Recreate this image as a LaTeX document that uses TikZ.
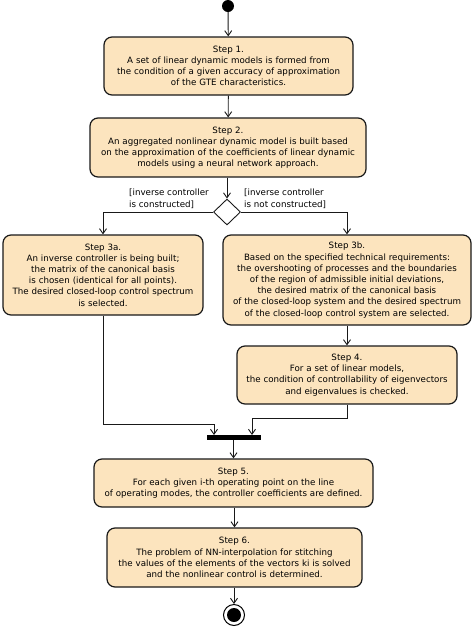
\documentclass[tikz,border=0pt]{standalone}
\usepackage{fontspec}
\setmainfont{DejaVu Sans}
\usepackage{tikz}
\usetikzlibrary{arrows.meta, positioning, shapes.geometric, calc}
\definecolor{stepfill}{RGB}{252,228,190}
\definecolor{stepline}{RGB}{25,25,25}
\tikzset{
    % activity steps
    stepbox/.style={rectangle, rounded corners=8pt, draw=stepline, fill=stepfill,
                line width=1.2pt, align=center, inner sep=1pt, text width=#1,
                font=\fontsize{8.7}{11.2}\selectfont},
    % guard labels
    guard/.style={font=\fontsize{8.7}{11.2}\selectfont, align=left, inner sep=0pt},
    % decision / join / start / end
    decide/.style={diamond, draw=stepline, fill=white, line width=0.9pt,
                minimum width=27pt, minimum height=26pt, inner sep=0pt},
    joinbar/.style={rectangle, fill=black, minimum width=54pt, minimum height=5pt, inner sep=0pt},
    startdot/.style={circle, fill=black, minimum size=12pt, inner sep=0pt},
    enddot/.style={circle, draw=black, line width=1pt, fill=white, minimum size=21pt, inner sep=0pt,
                path picture={\fill[black] (path picture bounding box.center) circle (7pt);}},
    % flow
    flow/.style={-{Straight Barb[length=5pt, width=7pt]}, line width=0.9pt, stepline},
}
\begin{document}
\begin{tikzpicture}[x=1pt, y=-1pt]
\useasboundingbox (0,0) rectangle (474,641);

\node[startdot] (start) at (228,6) {};
\node[stepbox=247pt, minimum width=249pt, minimum height=58pt] (s1) at (228.5,66)
    {Step 1.\\A set of linear dynamic models is formed from\\the condition of a given accuracy of approximation\\of the GTE characteristics.};
\node[stepbox=274pt, minimum width=276pt, minimum height=59pt] (s2) at (228,147.5)
    {Step 2.\\An aggregated nonlinear dynamic model is built based\\on the approximation of the coefficients of linear dynamic\\models using a neural network approach.};
\node[decide] (dec) at (227,212) {};
\node[guard, anchor=north west] (gl) at (129,189) {[inverse controller\\is constructed]};
\node[guard, anchor=north west] (gr) at (244,189) {[inverse controller\\is not constructed]};

\node[stepbox=198pt, minimum width=200pt, minimum height=80pt] (s3a) at (103,275)
    {Step 3a.\\An inverse controller is being built;\\the matrix of the canonical basis\\is chosen (identical for all points).\\The desired closed-loop control spectrum\\is selected.};
\node[stepbox=246pt, minimum width=248pt, minimum height=90pt] (s3b) at (347,280)
    {Step 3b.\\Based on the specified technical requirements:\\the overshooting of processes and the boundaries\\of the region of admissible initial deviations,\\the desired matrix of the canonical basis\\of the closed-loop system and the desired spectrum\\of the closed-loop control system are selected.};
\node[stepbox=218pt, minimum width=220pt, minimum height=58pt] (s4) at (347,375)
    {Step 4.\\For a set of linear models,\\the condition of controllability of eigenvectors\\and eigenvalues is checked.};

\node[joinbar] (join) at (234,437.5) {};
\coordinate (joinL) at (214,435);
\coordinate (joinR) at (252,435);

\node[stepbox=277pt, minimum width=279pt, minimum height=48pt] (s5) at (233.5,483)
    {Step 5.\\For each given i-th operating point on the line\\of operating modes, the controller coefficients are defined.};
\node[stepbox=253pt, minimum width=255pt, minimum height=59pt] (s6) at (234.5,557.5)
    {Step 6.\\The problem of NN-interpolation for stitching\\the values of the elements of the vectors ki is solved\\and the nonlinear control is determined.};
\node[enddot] (stop) at (234,615) {};

\draw[flow] (start) -- (s1);
\draw[flow] (s1) -- (s2);
\draw[flow] (s2.south -| dec) -- (dec);
\draw[flow] (dec.west) -| (s3a.north);
\draw[flow] (dec.east) -| (s3b.north);
\draw[flow] (s3b) -- (s4);
\draw[flow] (s3a.south) -- ++(0,109) -| (joinL);
\draw[flow] (s4.south) -- ++(0,14) -| (joinR);
\draw[flow] (join.south -| s5.north) -- (s5.north);
\draw[flow] (s5.south -| s6.north) -- (s6.north);
\draw[flow] (s6.south -| stop) -- (stop);
\end{tikzpicture}
\end{document}
